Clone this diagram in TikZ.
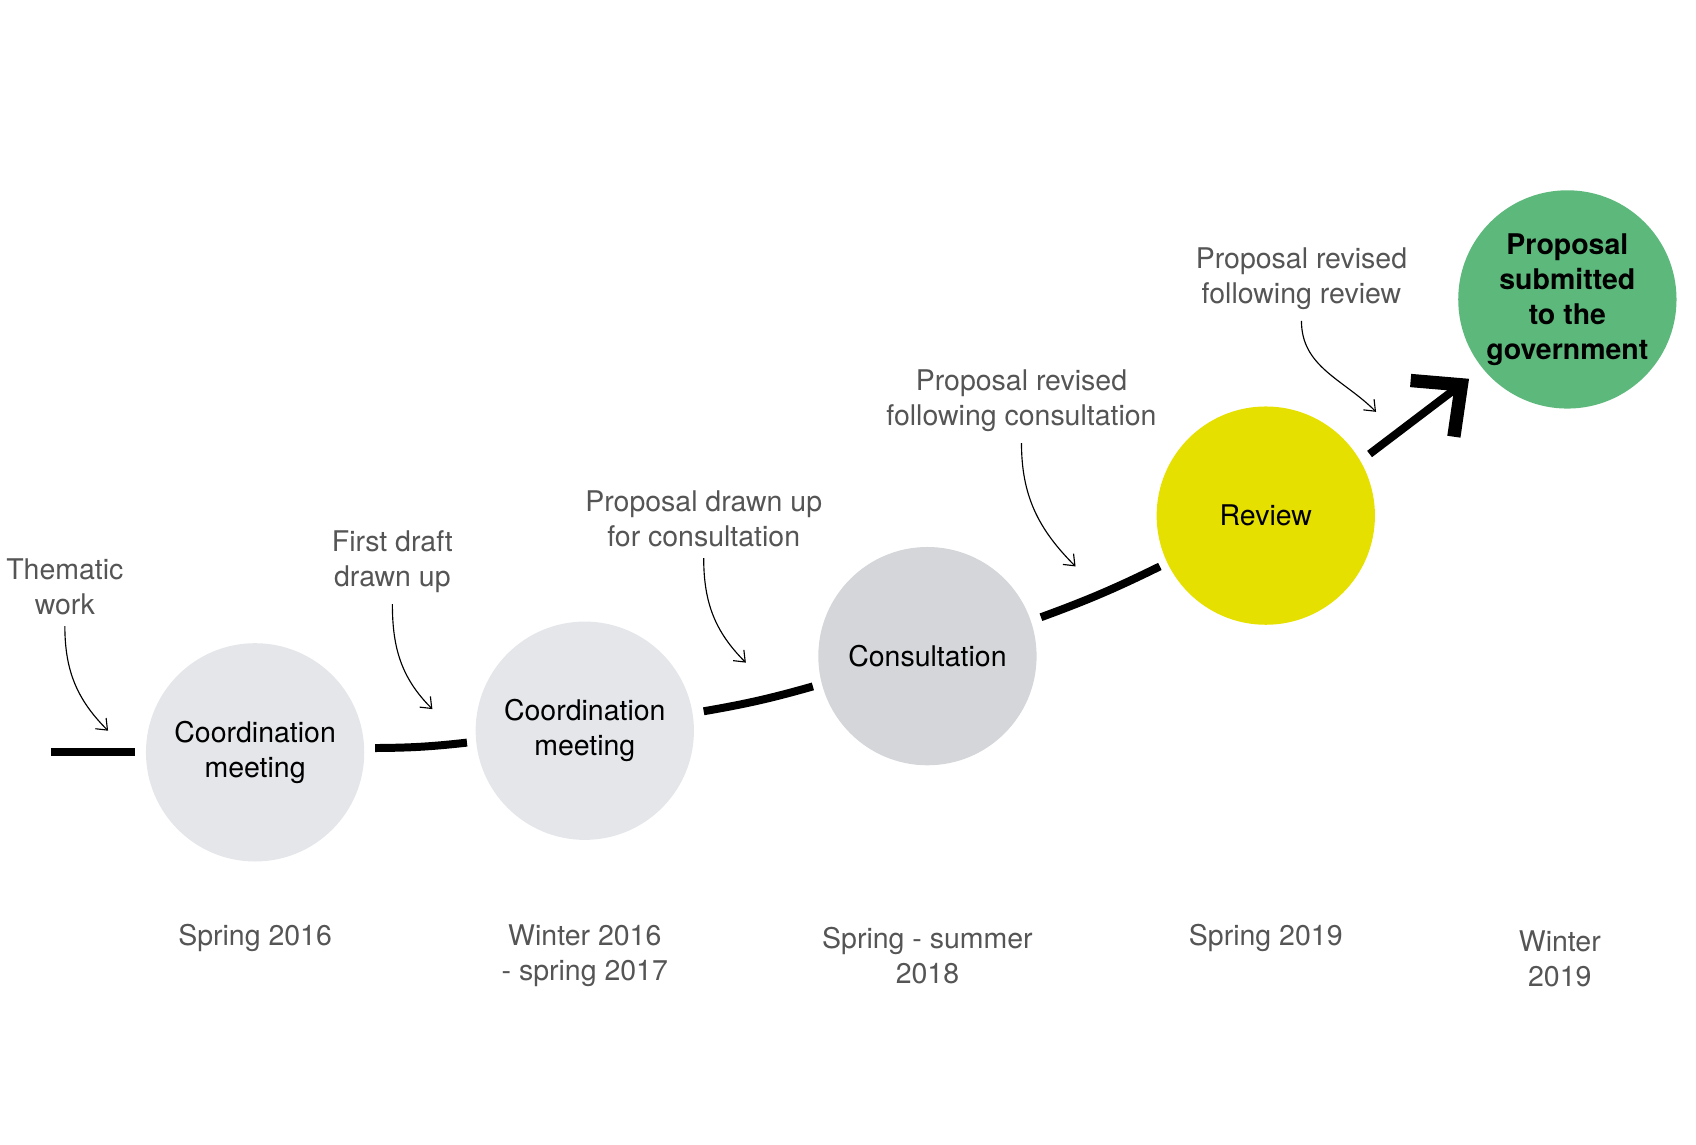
\documentclass[tikz,border=0pt]{standalone}
\usepackage{fontspec}
\setmainfont{TeX Gyre Heros}
\usetikzlibrary{arrows.meta}
\definecolor{cg}{HTML}{E4E6EA}
\definecolor{cc}{HTML}{D4D6D9}
\definecolor{cy}{HTML}{E6E000}
\definecolor{cgr}{HTML}{5DB87C}
\definecolor{tg}{HTML}{555555}
\begin{document}
\begin{tikzpicture}[x=0.02cm,y=-0.02cm,
  circ/.style={circle,minimum size=4.04cm,inner sep=0pt,align=center,font=\fontsize{15}{18.5}\selectfont},
  lab/.style={align=center,text=tg,font=\fontsize{15}{18.5}\selectfont},
  path/.style={line width=4.2pt},
  note/.style={-{Straight Barb[length=5pt,width=8pt]},line width=0.6pt}]
\useasboundingbox (0,0) rectangle (1569,1059);
\node[circ,fill=cg] (c1) at (236,696) {Coordination\\meeting};
\node[circ,fill=cg] (c2) at (541,676) {Coordination\\meeting};
\node[circ,fill=cc] (c3) at (858,607) {Consultation};
\node[circ,fill=cy] (c4) at (1171,477) {Review};
\node[circ,fill=cgr,font=\fontsize{15}{18.5}\selectfont\bfseries] (c5) at (1450,277) {Proposal\\submitted\\to the\\government};
\coordinate (s0) at (47,696); \coordinate (s1) at (125,696);
\coordinate (a1) at (347,692); \coordinate (a2) at (432,687);
\coordinate (b1) at (651,658); \coordinate (b2) at (752,635);
\coordinate (d1) at (963,571); \coordinate (d2) at (1073,524);
\coordinate (e1) at (1267,420); \coordinate (e2) at (1350,357);
\draw[path] (s0) -- (s1);
\draw[path] (a1) to[bend right=3] (a2);
\draw[path] (b1) to[bend right=3] (b2);
\draw[path] (d1) to[bend right=3] (d2);
\draw[path] (e1) -- (e2);
\draw[line width=7pt,miter limit=10] (1305,352) -- (1352,356) -- (1345,404);
\node[lab] (t1) at (60,543) {Thematic\\work};
\node[lab] (t2) at (363,520) {First draft\\drawn up};
\node[lab] (t3) at (651,480) {Proposal drawn up\\for consultation};
\node[lab] (t4) at (945,371) {Proposal revised\\following consultation};
\node[lab] (t5) at (1204,258) {Proposal revised\\following review};
\coordinate (n1) at (100,676); \coordinate (n2) at (400,656);
\coordinate (n3) at (690,613); \coordinate (n4) at (995,524); \coordinate (n5) at (1273,381);
\draw[note] (t1.south) ++(0,4) to[out=-90,in=135] (n1);
\draw[note] (t2.south) ++(0,4) to[out=-90,in=135] (n2);
\draw[note] (t3.south) ++(0,4) to[out=-90,in=135] (n3);
\draw[note] (t4.south) ++(0,4) to[out=-90,in=135] (n4);
\draw[note] (t5.south) ++(0,4) to[out=-90,in=135] (n5);
\node[lab] (y1) at (236,868) {Spring 2016};
\node[lab] (y2) at (541,884) {Winter 2016\\- spring 2017};
\node[lab] (y3) at (858,884) {Spring - summer\\2018};
\node[lab] (y4) at (1171,868) {Spring 2019};
\node[lab] (y5) at (1443,887) {Winter\\2019};
\end{tikzpicture}
\end{document}
